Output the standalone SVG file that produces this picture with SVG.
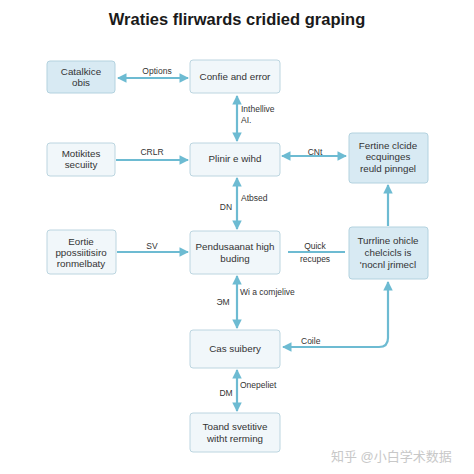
<svg xmlns="http://www.w3.org/2000/svg" width="474" height="474" viewBox="0 0 474 474">
<defs>
<style>
.bg{fill:#ffffff}
.box{fill:#f1f7fa;stroke:#bcd5e0;stroke-width:1}
.boxb{fill:#d8eaf3;stroke:#b3d2df;stroke-width:1}
.t{font-family:"Liberation Sans",Arial,sans-serif;font-size:9.8px;fill:#333;text-anchor:middle}
.l{font-family:"Liberation Sans",Arial,sans-serif;font-size:8.5px;fill:#333}
.c{stroke:#6dbbd2;stroke-width:2.2;fill:none}
.title{font-family:"Liberation Sans",Arial,sans-serif;font-size:16.5px;font-weight:bold;fill:#1a1a1a;text-anchor:middle}
.wm{font-family:"Liberation Sans","Noto Sans CJK SC",sans-serif;font-size:13px;fill:#c8c8c8}
</style>
<marker id="ah" viewBox="0 0 10 10" refX="9" refY="5" markerWidth="4.3" markerHeight="4.3" orient="auto-start-reverse">
<path d="M0,0 L10,5 L0,10 z" fill="#6dbbd2"/>
</marker>
</defs>
<rect class="bg" x="0" y="0" width="474" height="474"/>
<text class="title" x="237" y="25">Wraties flirwards cridied graping</text>

<g id="connectors">
<line class="c" x1="118" y1="78" x2="188" y2="78" marker-start="url(#ah)" marker-end="url(#ah)"/>
<line class="c" x1="237" y1="96" x2="237" y2="141" marker-start="url(#ah)" marker-end="url(#ah)"/>
<line class="c" x1="116" y1="160" x2="188" y2="160" marker-end="url(#ah)"/>
<line class="c" x1="282" y1="156" x2="346" y2="156" marker-start="url(#ah)" marker-end="url(#ah)"/>
<line class="c" x1="237" y1="178" x2="237" y2="229" marker-start="url(#ah)" marker-end="url(#ah)"/>
<line class="c" x1="117" y1="252" x2="188" y2="252" marker-end="url(#ah)"/>
<line class="c" x1="288" y1="252" x2="345" y2="252"/>
<line class="c" x1="388" y1="226" x2="388" y2="185" marker-end="url(#ah)"/>
<line class="c" x1="237" y1="276" x2="237" y2="328" marker-start="url(#ah)" marker-end="url(#ah)"/>
<path class="c" d="M388,282 L388,338 Q388,347 379,347 L283,347" marker-start="url(#ah)" marker-end="url(#ah)"/>
<line class="c" x1="237" y1="370" x2="237" y2="411" marker-start="url(#ah)" marker-end="url(#ah)"/>
<text class="l" x="157" y="74" text-anchor="middle">Options</text>
<text class="l" x="241" y="112">Inthellive</text>
<text class="l" x="241" y="123">AI.</text>
<text class="l" x="152" y="155" text-anchor="middle">CRLR</text>
<text class="l" x="315" y="155" text-anchor="middle">CNt</text>
<text class="l" x="241" y="201">Atbsed</text>
<text class="l" x="226" y="210" text-anchor="middle">DN</text>
<text class="l" x="152" y="249" text-anchor="middle">SV</text>
<text class="l" x="315" y="249" text-anchor="middle">Quick</text>
<text class="l" x="315" y="262" text-anchor="middle">recupes</text>
<text class="l" x="240" y="295">Wi a comjelive</text>
<text class="l" x="223" y="305" text-anchor="middle">ЭМ</text>
<text class="l" x="301" y="344">Coile</text>
<text class="l" x="240" y="388">Onepeliet</text>
<text class="l" x="226" y="396" text-anchor="middle">DM</text>
</g>

<g id="n1"><rect class="boxb" x="47" y="61" width="68" height="32" rx="3"/>
<text class="t" x="81" y="75">Catalkice</text><text class="t" x="81" y="86">obis</text></g>
<g id="n2"><rect class="box" x="190" y="60" width="90" height="33" rx="3"/>
<text class="t" x="235" y="80">Confie and error</text></g>
<g id="n3"><rect class="box" x="47" y="143" width="68" height="33" rx="3"/>
<text class="t" x="81" y="157">Motikites</text><text class="t" x="81" y="168">secuiity</text></g>
<g id="n4"><rect class="box" x="190" y="143" width="90" height="33" rx="3"/>
<text class="t" x="235" y="162">Plinir e wihd</text></g>
<g id="n5"><rect class="boxb" x="349" y="133" width="79" height="50" rx="3"/>
<text class="t" x="388" y="149">Fertine clcide</text><text class="t" x="388" y="160">ecquinges</text><text class="t" x="388" y="172">reuld pinngel</text></g>
<g id="n6"><rect class="box" x="47" y="230" width="69" height="44" rx="3"/>
<text class="t" x="81" y="245">Eortie</text><text class="t" x="81" y="256">ppossiitisiro</text><text class="t" x="81" y="267">ronmelbaty</text></g>
<g id="n7"><rect class="box" x="190" y="231" width="90" height="43" rx="3"/>
<text class="t" x="235" y="250">Pendusaanat high</text><text class="t" x="235" y="262">buding</text></g>
<g id="n8"><rect class="boxb" x="349" y="227" width="79" height="52" rx="3"/>
<text class="t" x="388" y="244">Turrline ohicle</text><text class="t" x="388" y="256">chelcicls is</text><text class="t" x="388" y="268">'nocnl jrimecl</text></g>
<g id="n9"><rect class="box" x="190" y="330" width="90" height="38" rx="3"/>
<text class="t" x="235" y="352">Cas suibery</text></g>
<g id="n10"><rect class="box" x="190" y="413" width="90" height="39" rx="3"/>
<text class="t" x="235" y="430">Toand svetitive</text><text class="t" x="235" y="442">witht rerming</text></g>

<text class="wm" x="331" y="461">知乎 @小白学术数据</text>
</svg>
